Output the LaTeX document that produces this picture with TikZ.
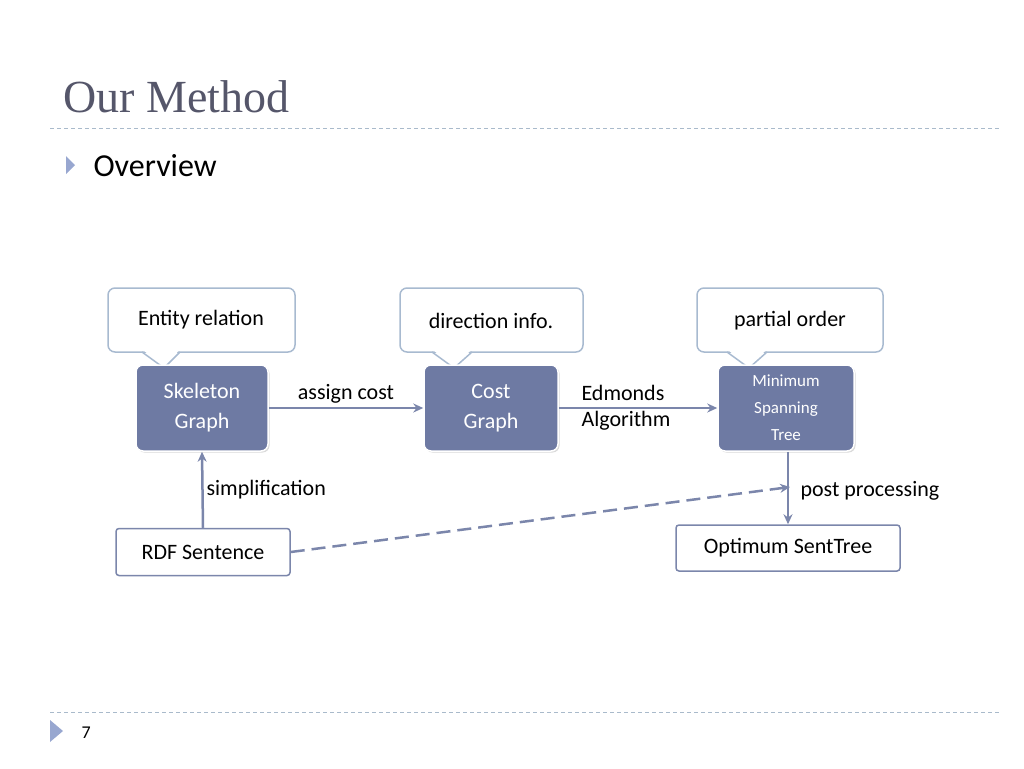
\documentclass[tikz,border=0pt]{standalone}
\usepackage{fontspec}
\setmainfont{Carlito}
\newfontfamily\titlef{Liberation Serif}
\usetikzlibrary{arrows.meta,shapes.callouts,shadows}
\definecolor{boxc}{HTML}{6E7AA3}
\definecolor{linec}{HTML}{7B86AB}
\definecolor{callb}{HTML}{A8BAD0}
\definecolor{titc}{HTML}{55566A}
\definecolor{dashc}{HTML}{A9BACB}
\begin{document}
\begin{tikzpicture}[x=1pt,y=-1pt,
  blue box/.style={fill=boxc,draw=white,line width=1.5pt,rounded corners=7pt,text=white,align=center,
     drop shadow={shadow xshift=1.5pt,shadow yshift=-1.5pt,opacity=0.3}},
  callout/.style={fill=white,draw=callb,line width=1.5pt,rounded corners=7pt},
  wbox/.style={fill=white,draw=linec,line width=1.5pt,rounded corners=3pt,font=\fontsize{22}{26}\selectfont},
  conn/.style={draw=linec,line width=2.5pt,-{Stealth[length=10pt,width=9pt]}},
  lab/.style={font=\fontsize{22}{26}\selectfont}]
\useasboundingbox (0,0) rectangle (1024,768);
% title
\node[anchor=base west,text=titc,font=\titlef\fontsize{46}{50}\selectfont] (title) at (60,112) {Our Method};
\draw[dashc,line width=1pt,dash pattern=on 4pt off 3pt] (50,128) -- (1000,128);
\fill[dashc!90!blue] (66,156) -- (75,165) -- (66,174) -- cycle;
\node[anchor=base west,font=\fontsize{32}{36}\selectfont] (ov) at (90,176) {Overview};
% callouts
\draw[callout] (108,288) rectangle (295,352);
\fill[white] (142,349) -- (164,368) -- (180,349) -- cycle;
\draw[callb,line width=1.5pt] (142,352) -- (164,368) -- (180,352);
\node[lab] (c1) at (201,320) {Entity relation};
\draw[callout] (400,288) rectangle (583,352);
\fill[white] (432,349) -- (454,368) -- (472,349) -- cycle;
\draw[callb,line width=1.5pt] (432,352) -- (454,368) -- (472,352);
\node[lab] (c2) at (491,321) {direction info.};
\draw[callout] (697,288) rectangle (883,352);
\fill[white] (727,349) -- (749,368) -- (767,349) -- cycle;
\draw[callb,line width=1.5pt] (727,352) -- (749,368) -- (767,352);
\node[lab] (c3) at (790,321) {partial order};
% boxes
\node[blue box,minimum width=132pt,minimum height=86pt,font=\fontsize{22}{30}\selectfont] (sk) at (202,408) {Skeleton\\Graph};
\node[blue box,minimum width=134pt,minimum height=86pt,font=\fontsize{22}{30}\selectfont] (cg) at (491,408) {Cost\\Graph};
\node[blue box,minimum width=136pt,minimum height=86pt,font=\fontsize{17}{27}\selectfont] (mst) at (786,408) {Minimum\\Spanning\\Tree};
\node[wbox,minimum width=174pt,minimum height=47pt] (rdf) at (203,552) {RDF Sentence};
\node[wbox,minimum width=224pt,minimum height=46pt] (opt) at (788,548) {Optimum SentTree};
% connectors
\draw[conn] (sk.east) -- (cg.west) node[midway,above,lab] {assign cost};
\draw[conn] (cg.east) -- (mst.west);
\node[lab,anchor=west,align=left] (ed) at (578,408) {Edmonds\\Algorithm};
\draw[conn] (rdf.north) -- (sk.south);
\node[lab,anchor=west] (simp) at (203,490) {simplification};
\draw[conn] (mst.south -| opt.north) -- (opt.north);
\coordinate (pp) at (790,487);
\node[lab,anchor=west] (post) at (797,491) {post processing};
\draw[conn,dash pattern=on 14pt off 7pt] (rdf.east) -- (pp);
% footer
\draw[dashc,line width=1pt,dash pattern=on 4pt off 3pt] (50,712) -- (1000,712);
\fill[dashc!90!blue] (50,720) -- (63,731) -- (50,742) -- cycle;
\node[anchor=base west,font=\fontsize{18}{20}\selectfont] (pg) at (78,738) {7};
\end{tikzpicture}
\end{document}
